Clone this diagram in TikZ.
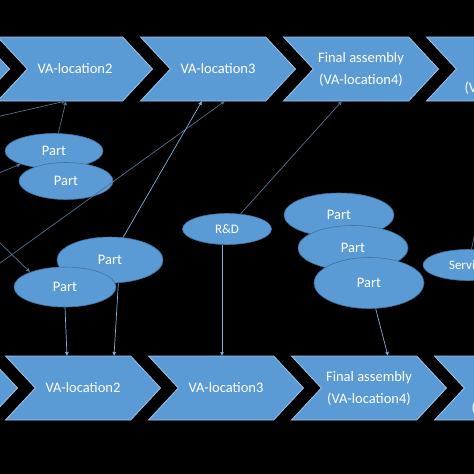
\documentclass[tikz,border=0pt]{standalone}
\usepackage{fontspec}
\setmainfont{Carlito}
\usetikzlibrary{shapes.geometric, shapes.symbols, arrows.meta}
\definecolor{office_blue}{RGB}{91, 155, 213}
\definecolor{office_blue_dark}{RGB}{65, 113, 156}
\definecolor{office_blue_edge}{RGB}{160, 196, 230}
\definecolor{line_light}{RGB}{130, 175, 215}
\definecolor{line_dim}{RGB}{85, 112, 142}
\tikzstyle{location} = [signal, signal to=east, signal from=west, signal pointer angle=94, minimum width=155pt, minimum height=64pt, inner sep=0pt, outer sep=0pt, text centered, align=center, draw=office_blue_edge, line width=0.8pt, fill=office_blue, text=white, font=\fontsize{14.5}{22}\selectfont]
\tikzstyle{part} = [ellipse, inner sep=0pt, text centered, draw=office_blue_dark, line width=0.6pt, fill=office_blue, text=white, font=\fontsize{14.5}{17}\selectfont]
\tikzstyle{arrow} = [line width=0.7pt, draw=line_light, -{Latex[length=4pt, width=4pt]}]
\tikzstyle{dimarrow} = [arrow, draw=line_dim]

\begin{document}
\begin{tikzpicture}[x=1pt, y=-1pt, node distance=143pt]
        \useasboundingbox (0,0) rectangle (474,474);
        \fill[black] (0,0) rectangle (474,474);
        \clip (0,0) rectangle (474,474);

        % upper chain
        \node (toplocone) [location] at (-68,69) {};
        \node (toploctwo) [location, right of=toplocone] {VA-location2};
        \node (toplocthree) [location, right of=toploctwo] {VA-location3};
        \node (toplocfour) [location, right of=toplocthree] {Final assembly \\ (VA-location4)};
        \node (toplocfive) [location, right of=toplocfour] {};
        \node (toplocfivetext) [anchor=west, text=white, font=\fontsize{14.5}{22}\selectfont] at (461,88) {(VA-location5)};

        % lower chain
        \node (botlocone) [location] at (-60,388) {};
        \node (botloctwo) [location, right of=botlocone] {VA-location2};
        \node (botlocthree) [location, right of=botloctwo] {VA-location3};
        \node (botlocfour) [location, right of=botlocthree] {Final assembly \\ (VA-location4)};
        \node (botlocfive) [location, right of=botlocfour] {};
        \node (botlocfivetext) [anchor=west, text=white, font=\fontsize{14.5}{22}\selectfont] at (468,408) {(VA-location5)};

        % parts in between
        \node (partone) [part, minimum width=98pt, minimum height=35pt] at (54,151) {Part};
        \node (parttwo) [part, minimum width=94pt, minimum height=37pt] at (66,181) {Part};
        \node (partthree) [part, minimum width=106pt, minimum height=46pt] at (110,260) {Part};
        \node (partfour) [part, minimum width=102pt, minimum height=40pt] at (65,287) {Part};
        \node (rnd) [part, minimum width=89pt, minimum height=31pt, font=\fontsize{13}{15}\selectfont] at (227,229) {R\&D};
        \node (partfive) [part, minimum width=110pt, minimum height=44pt] at (339,215) {Part};
        \node (partsix) [part, minimum width=110pt, minimum height=45pt] at (353,248) {Part};
        \node (partseven) [part, minimum width=110pt, minimum height=51pt] at (369,283) {Part};
        \node (service) [part, minimum width=90pt, minimum height=31pt, font=\fontsize{13}{15}\selectfont] at (468,265) {Service};

        \coordinate (ina) at (-4,117);
        \coordinate (inb) at (-4,174);
        \coordinate (inc) at (-4,239);
        \coordinate (ind) at (-4,266);

        \draw [dimarrow] (ina) -- ([xshift=-9pt]toploctwo.south);
        \draw [dimarrow] (partone) -- ([xshift=-9pt]toploctwo.south);
        \draw [dimarrow] (inb) -- (partone);
        \draw [dimarrow] (inc) -- (partfour.157);
        \draw [dimarrow] (ind) -- ([xshift=7pt]toplocthree.south);
        \draw [arrow] (partthree) -- ([xshift=-16pt]toplocthree.south);
        \draw [dimarrow] (rnd) -- ([xshift=-19pt]toplocfour.south);
        \draw [dimarrow] (service) -- (toplocfive.south);

        \draw [arrow] ([xshift=-5pt]rnd.south) -- ([xshift=-4pt]botlocthree.north);
        \draw [arrow] (partfour.south) -- ([xshift=-16pt]botloctwo.north);
        \draw [arrow] (partthree.290) -- ([xshift=31pt]botloctwo.north);
        \draw [arrow] (partseven) -- ([xshift=19pt]botlocfour.north);
        \draw [dimarrow] (service) -- (botlocfive.north);
    \end{tikzpicture}
\end{document}
